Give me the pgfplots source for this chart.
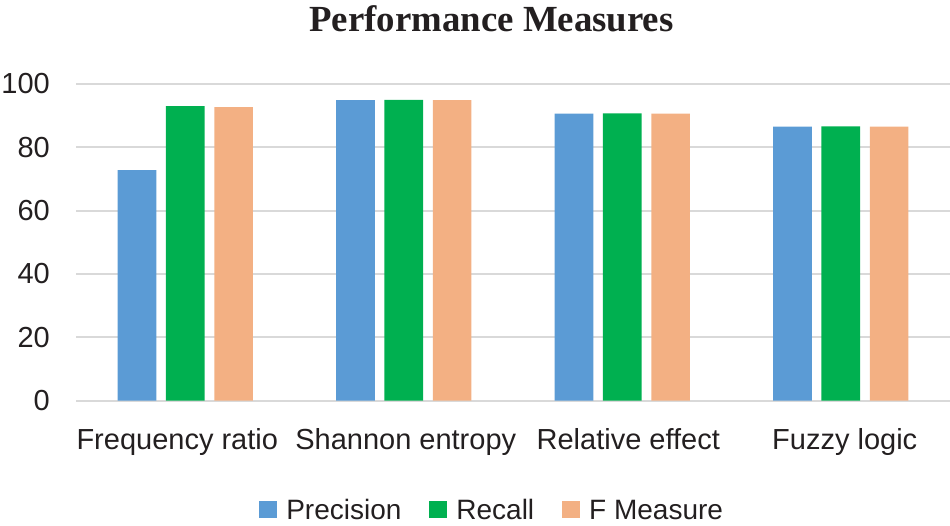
\documentclass[border=0pt]{standalone}
\usepackage{fontspec}
\setmainfont{Liberation Sans}
\newfontfamily\titlefont{Liberation Serif}
\usepackage{pgfplots}
\pgfplotsset{compat=1.18}
\definecolor{cPrec}{HTML}{5B9BD5}
\definecolor{cRec}{HTML}{00B050}
\definecolor{cF}{HTML}{F3B083}
\definecolor{cGrid}{HTML}{D9D9D9}
\definecolor{cText}{HTML}{231F20}
\begin{document}
\begin{tikzpicture}[x=1pt,y=1pt]
\useasboundingbox (0,0) rectangle (950,525);
\node[anchor=base, text=cText] at (491.5,493.3) {\titlefont\bfseries\fontsize{36.8}{40}\selectfont Performance Measures};
\begin{axis}[
  at={(76pt,124.5pt)}, anchor=south west,
  scale only axis, width=874pt, height=316.5pt,
  ybar=9.7pt, bar width=38.6pt,
  xmin=-0.5, xmax=3.5, ymin=0, ymax=100,
  xtick=data,
  xticklabels={\hspace*{-16pt}Frequency ratio, \hspace*{4pt}Shannon entropy, \hspace*{12pt}Relative effect, \hspace*{8pt}Fuzzy logic},
  ytick={0,20,40,60,80,100},
  axis line style={draw=none},
  axis x line*=bottom,
  major tick length=0pt,
  ymajorgrids, grid style={cGrid, line width=2pt},
  /pgf/number format/assume math mode=true,
  tick label style={font=\fontsize{29}{32}\selectfont, text=cText},
  xticklabel style={anchor=base, yshift=-48.5pt},
  yticklabel style={anchor=east, inner sep=0pt, xshift=-26pt},
  legend columns=-1,
  legend style={at={(axis description cs:0.475,-0.347)}, anchor=center, draw=none, fill=none,
    inner sep=0pt, font=\fontsize{28}{30}\selectfont, text=cText,
    nodes={inner sep=0pt},
    /tikz/every odd column/.append style={column sep=9pt},
    /tikz/every even column/.append style={column sep=28pt}},
  legend image code/.code={\fill[#1, draw=none] (0pt,-8pt) rectangle (18pt,9pt);},
]
\addplot[fill=cPrec, draw=none] coordinates {(0,72.8) (1,94.9) (2,90.6) (3,86.5)};
\addplot[fill=cRec, draw=none] coordinates {(0,93.0) (1,95.0) (2,90.7) (3,86.6)};
\addplot[fill=cF, draw=none] coordinates {(0,92.7) (1,94.9) (2,90.6) (3,86.5)};
\legend{Precision, Recall, F Measure}
\end{axis}
\end{tikzpicture}
\end{document}
